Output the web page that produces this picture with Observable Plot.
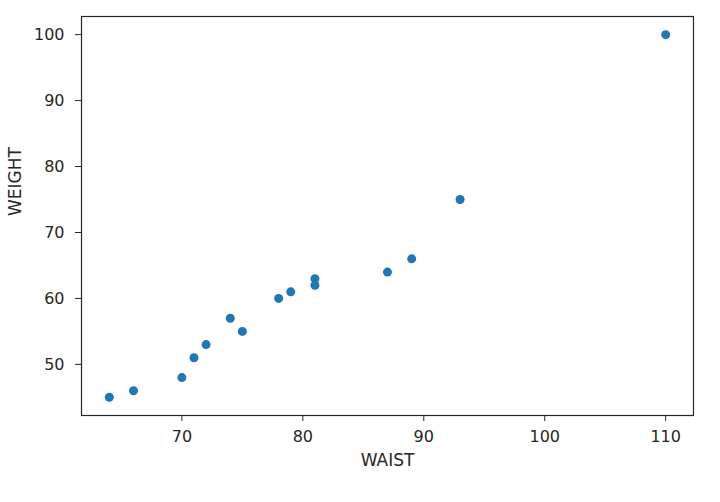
<!DOCTYPE html>
<html>
<head>
<meta charset="utf-8">
<script src="https://cdn.jsdelivr.net/npm/d3@7"></script>
<script src="https://cdn.jsdelivr.net/npm/@observablehq/plot@0.6"></script>
<style>
  html, body { margin: 0; padding: 0; background: #fff; }
  svg { font-family: "DejaVu Sans", sans-serif; }
</style>
</head>
<body>
<div id="chart"></div>
<script>
const waist  = [64, 66, 70, 71, 72, 74, 75, 78, 79, 81, 81, 87, 89, 93, 110];
const weight = [45, 46, 48, 51, 53, 57, 55, 60, 61, 63, 62, 64, 66, 75, 100];
const xTicks = [70, 80, 90, 100, 110];
const yTicks = [50, 60, 70, 80, 90, 100];

const data = waist.map((w, i) => ({waist: w, weight: weight[i]}));

const pad = (a) => { const lo = d3.min(a), hi = d3.max(a), m = (hi - lo) * 0.05; return [lo - m, hi + m]; };

const chart = Plot.plot({
  width: 720,
  height: 502,
  marginLeft: 81,
  marginRight: 27,
  marginTop: 16,
  marginBottom: 87,
  style: {fontFamily: "DejaVu Sans, sans-serif", fontSize: "16px", color: "#262626", background: "#fff"},
  x: {domain: pad(waist)},
  y: {domain: pad(weight)},
  marks: [
    Plot.frame({stroke: "#262626", strokeWidth: 1.2}),
    Plot.axisX({ticks: xTicks, tickSize: 6, tickPadding: 9, fontSize: 16, label: null}),
    Plot.axisY({ticks: yTicks, tickSize: 6, tickPadding: 11, fontSize: 16, label: null}),
    Plot.text(["WAIST"], {frameAnchor: "bottom", dy: 38, fontSize: 17, fill: "#262626", lineAnchor: "top"}),
    Plot.text(["WEIGHT"], {frameAnchor: "left", dx: -66, rotate: -90, fontSize: 17, fill: "#262626"}),
    Plot.dot(data, {x: "waist", y: "weight", r: 4.5, fill: "#1f77b4", stroke: null})
  ]
});
document.getElementById("chart").appendChild(chart);
</script>
</body>
</html>
